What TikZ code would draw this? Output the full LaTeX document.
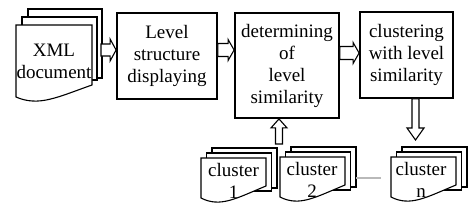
\documentclass[tikz,border=0pt]{standalone}
\usepackage{fontspec}
\setmainfont{Liberation Serif}
\usetikzlibrary{calc}
\tikzset{
  box/.style={draw, line width=1.8pt, fill=white, inner sep=0pt, align=center, font=\fontsize{19}{22}\selectfont},
  pagebox/.style={draw, line width=1.1pt, fill=white},
  lbl/.style={align=center, inner sep=0pt, font=\fontsize{19}{22}\selectfont},
  blk/.style={draw, line width=1.1pt, fill=white, line join=miter},
  faint/.style={draw=gray!55, line width=1.2pt},
}
% document page with wavy bottom: x0, top, x1, left bottom, right bottom
\newcommand\docpage[5]{%
  \draw[pagebox] ({#1},{#2}) -- ({#3},{#2}) -- ({#3},{#5})
    .. controls ({#3-0.45*(#3-#1)},{#4}) and ({#1+0.3*(#3-#1)},{#4+10}) .. ({#1},{#4}) -- cycle;}
% stack of three cluster pages, front page at x0=#1, top=#2
\newcommand\clstack[2]{%
  \draw[pagebox] ({#1+11},{#2-10}) rectangle ({#1+76},{#2+30});
  \draw[pagebox] ({#1+5.5},{#2-5}) rectangle ({#1+70.5},{#2+33});
  \docpage{#1}{#2}{#1+65}{#2+40}{#2+28}}
% horizontal block arrow: start, end, shaft half, head half, head length
\newcommand\harrow[5]{%
  \draw[blk] let \p1=(#1), \p2=(#2) in
    ({\x1},{\y1+#3}) -- ({\x2-#5},{\y1+#3}) -- ({\x2-#5},{\y1+#4}) -- ({\x2},{\y1})
    -- ({\x2-#5},{\y1-#4}) -- ({\x2-#5},{\y1-#3}) -- ({\x1},{\y1-#3}) -- cycle;}
% vertical block arrow: start, end, shaft half, head half, signed head length
\newcommand\varrow[5]{%
  \draw[blk] let \p1=(#1), \p2=(#2) in
    ({\x1+#3},{\y1}) -- ({\x1+#3},{\y2-(#5)}) -- ({\x1+#4},{\y2-(#5)}) -- ({\x1},{\y2})
    -- ({\x1-#4},{\y2-(#5)}) -- ({\x1-#3},{\y2-(#5)}) -- ({\x1-#3},{\y1}) -- cycle;}
\begin{document}
\begin{tikzpicture}[x=1pt, y=-1pt]
\useasboundingbox (0,0) rectangle (474,207);
\fill[white] (0,0) rectangle (474,207);

% XML document stack
\draw[pagebox] (28,9) rectangle (102,78);
\draw[pagebox] (22,17) rectangle (97,80);
\docpage{16}{25}{92}{97}{85}
\node[lbl] (xml) at (54,61) {XML\\document};

% process boxes
\node[box, minimum width=100pt, minimum height=86pt] (lvl) at (167,56) {Level\\structure\\displaying};
\node[box, minimum width=104pt, minimum height=105pt] (det) at (287,65.5) {determining\\of\\level\\similarity};
\node[box, minimum width=93pt, minimum height=86pt] (clu) at (406.5,55) {clustering\\with level\\similarity};

% cluster stacks
\clstack{201}{158}
\node[lbl] (c1) at (233.5,181) {cluster\\1};
\clstack{280}{157}
\node[lbl] (c2) at (312,180) {cluster\\2};
\clstack{391}{157}
\node[lbl] (cn) at (421,180) {cluster\\n};

% connectors
\coordinate (xmlR) at (101,50);
\harrow{xmlR}{lvl.west}{6pt}{11pt}{6pt}
\coordinate (lvlR) at ($(lvl.east)+(0,-6)$);
\harrow{lvlR}{det.west}{6.5pt}{10.5pt}{6pt}
\coordinate (detR) at ($(det.east)+(0,-12.5)$);
\harrow{detR}{clu.west}{6.5pt}{10.5pt}{6pt}
\coordinate (upS) at (279,144);
\varrow{upS}{det.south}{3.5pt}{8pt}{9pt}
\coordinate (dnS) at ($(clu.south)+(9,0)$);
\coordinate (dnE) at (415.5,140);
\varrow{dnS}{dnE}{3.5pt}{8.5pt}{-12pt}
\coordinate (c2e) at (356,178);
\coordinate (gend) at (381,178);
\draw[faint] (c2e) -- (gend);
\end{tikzpicture}
\end{document}
